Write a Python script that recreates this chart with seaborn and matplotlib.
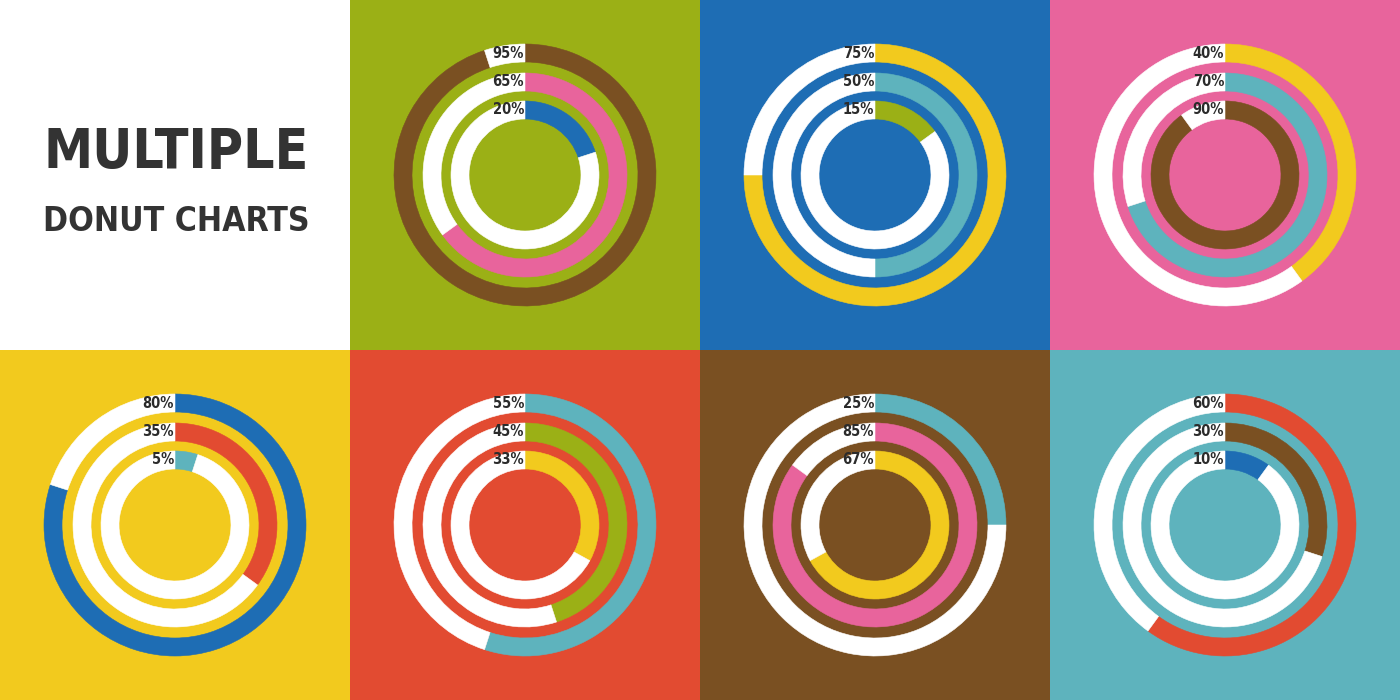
import seaborn as sns
import matplotlib.pyplot as plt

sns.set_theme(style="white")

# one entry per donut panel, left-to-right, top-to-bottom (title panel excluded)
panel_bg = ["green", "blue", "pink", "yellow", "red", "brown", "teal"]
outer_pct = [95, 75, 40, 80, 55, 25, 60]
middle_pct = [65, 50, 70, 35, 45, 85, 30]
inner_pct = [20, 15, 90, 5, 33, 67, 10]
outer_color = ["brown", "yellow", "yellow", "blue", "teal", "teal", "red"]
middle_color = ["pink", "teal", "teal", "red", "green", "pink", "brown"]
inner_color = ["blue", "green", "brown", "teal", "yellow", "yellow", "blue"]

title_lines = ["MULTIPLE", "DONUT CHARTS"]

palette = {
    "green": "#9BB016",
    "blue": "#1E6DB4",
    "pink": "#E8649C",
    "yellow": "#F2CA1E",
    "red": "#E24B31",
    "brown": "#7A5022",
    "teal": "#5EB3BD",
}
font = dict(family=["DejaVu Sans"], fontstretch="condensed", fontweight="bold")
text_color = "#2b2b2b"

half = 175          # half panel size in pixels
radii = [131, 102, 74]
ring_w = 18

fig, axes = plt.subplots(2, 4, figsize=(14, 7), dpi=100)
fig.subplots_adjust(left=0, right=1, bottom=0, top=1, wspace=0, hspace=0)
axes = axes.ravel()

# title panel
ax = axes[0]
ax.set_xlim(-half, half)
ax.set_ylim(-half, half)
ax.set_facecolor("white")
ax.set_xticks([])
ax.set_yticks([])
for s in ax.spines.values():
    s.set_visible(False)
t1 = ax.text(-132, 7, title_lines[0], fontsize=50, color="#333333",
             ha="left", va="baseline", **font)
t2 = ax.text(-132, -56, title_lines[1], fontsize=30, color="#333333",
             ha="left", va="baseline", **font)

# shrink/grow both lines so they span the same width as in the original
renderer = fig.canvas.get_renderer()
for t in (t1, t2):
    w = t.get_window_extent(renderer).width
    t.set_fontsize(t.get_fontsize() * 266 / w)

for i, ax in enumerate(axes[1:]):
    rings = [(outer_pct[i], outer_color[i]),
             (middle_pct[i], middle_color[i]),
             (inner_pct[i], inner_color[i])]
    for (pct, col), r in zip(rings, radii):
        wedges, _ = ax.pie([pct, 100 - pct], radius=r, startangle=90,
                           counterclock=False,
                           colors=[palette[col], "white"],
                           wedgeprops=dict(width=ring_w, linewidth=0))
        for w in wedges:
            w.set_edgecolor(w.get_facecolor())
            w.set_linewidth(0.4)
        ax.text(-1, r - ring_w / 2, f"{pct}%", fontsize=10.5,
                color=text_color, ha="right", va="center", **font)
    ax.set_xlim(-half, half)
    ax.set_ylim(-half, half)
    ax.set_aspect("equal")
    ax.set_frame_on(True)
    ax.set_facecolor(palette[panel_bg[i]])
    for s in ax.spines.values():
        s.set_visible(False)

fig.savefig("out.png", dpi=100)
